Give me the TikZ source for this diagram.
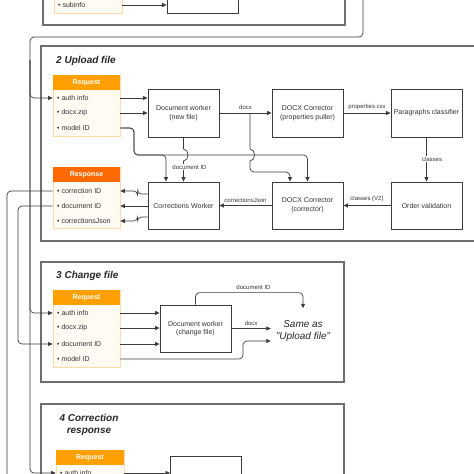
\documentclass[tikz,border=0pt]{standalone}
\usepackage{fontspec}
\setmainfont{Liberation Sans}
\usetikzlibrary{arrows.meta}
\definecolor{reqorange}{HTML}{FFA000}
\definecolor{resporange}{HTML}{FF6A00}
\definecolor{bodyfill}{HTML}{FFFBF3}
\definecolor{bodyline}{HTML}{FFD9A8}
\definecolor{lineg}{HTML}{3C3C3C}
\definecolor{frameg}{HTML}{6E6E6E}

\begin{document}
\begin{tikzpicture}[x=1pt, y=-1pt,
  frame/.style={draw=frameg, line width=1.1pt},
  box/.style={draw=lineg, line width=0.8pt, fill=white, minimum width=71pt, minimum height=48pt,
    align=center, inner sep=1pt, font=\fontsize{7}{8.6}\selectfont, text=black!80},
  listbody/.style={draw=bodyline, line width=0.6pt, fill=bodyfill, minimum width=67pt, inner sep=0pt},
  listhead/.style={fill=#1, text=white, font=\bfseries\fontsize{7}{8}\selectfont,
    minimum width=67pt, minimum height=15pt, inner sep=0pt, anchor=north},
  item/.style={anchor=west, inner sep=1pt, font=\fontsize{7}{8}\selectfont, text=black!80},
  lbl/.style={inner sep=1pt, font=\fontsize{6}{7}\selectfont, text=black!80},
  conn/.style={draw=lineg, line width=0.7pt, rounded corners=4pt, -{Triangle[length=4.5pt, width=4pt]}},
  title/.style={font=\bfseries\itshape\fontsize{10}{12}\selectfont, text=black!85, inner sep=0pt},
]
  \useasboundingbox (0,0) rectangle (474,474);
  \clip (0,0) rectangle (474,474);

  % frames
  \draw[frame] (43,-60) rectangle (345,25);
  \draw[frame] (41,46) rectangle (490,241);
  \draw[frame] (41,262) rectangle (344,382);
  \draw[frame] (41,404) rectangle (344,520);

  % 1 (cut off)
  \node[listbody, minimum width=68pt, minimum height=66pt] (req1) at (88,-20) {};
  \node[item] (r1s) at (57,5) {• subinfo};
  \node[box] (b1) at (202.5,-11) {};
  \draw[conn] (req1.east |- r1s) -- (b1.west |- r1s);

  % 2 Upload file
  \node[title, anchor=west] (t2) at (56,61) {2 Upload file};
  \node[listbody, minimum height=61pt] (req2) at (86.5,105.5) {};
  \node[listhead=reqorange] (req2h) at (req2.north) {Request};
  \node[item] (r2a) at (56,98) {• auth info};
  \node[item] (r2d) at (56,113) {• docx.zip};
  \node[item] (r2m) at (56,128) {• model ID};

  \node[listbody, minimum height=61pt] (resp2) at (86.5,197.5) {};
  \node[listhead=resporange] (resp2h) at (resp2.north) {Response};
  \node[item] (r2c) at (56,191) {• correction ID};
  \node[item] (r2i) at (56,206) {• document ID};
  \node[item] (r2j) at (56,221) {• correctionsJson};

  \node[box] (dw2) at (183.5,113) {Document worker\\(new file)};
  \node[box] (dc1) at (307.5,113) {DOCX Corrector\\(properties puller)};
  \node[box] (pc) at (426.5,113) {Paragraphs classifier};
  \node[box, minimum height=47pt] (cw2) at (183.5,205.5) {Corrections Worker};
  \node[box, minimum height=47pt] (dc2) at (307.5,205.5) {DOCX Corrector\\(corrector)};
  \node[box, minimum height=47pt] (ov) at (426.5,205.5) {Order validation};

  \draw[conn] (req2.east |- r2a) -- (dw2.west |- r2a);
  \draw[conn] (req2.east |- r2d) -- (dw2.west |- r2d);
  \draw[conn] (dw2.east) -- (dc1.west) node[lbl, midway, above=2pt] (l-docx2) {docx};
  \draw[conn] (dc1.east) -- (pc.west) node[lbl, midway, above=2pt] (l-csv) {properties.csv};
  \draw[conn] (pc.south) -- (ov.north);
  \node[lbl, fill=white] (l-cls) at (432,159) {classes};
  \draw[conn] (ov.west) -- (dc2.east) node[lbl, midway, above=2pt] (l-cls2) {classes (V2)};
  \draw[conn] (dc2.west) -- (cw2.east) node[lbl, midway, above=2pt] (l-json) {correctionsJson};

  \coordinate (mbus) at (134,155);
  \draw[conn] (req2.east |- r2m) -| (mbus) -| (dc2.north);
  \draw[conn] (req2.east |- r2m) -| (mbus) -| ([xshift=-17.5pt]cw2.north);

  % jumps over the model ID line
  \coordinate (dsplit) at (250,113);
  \draw[conn] (dsplit) [sharp corners] -- (250,149) .. controls (256,149) and (256,161) .. (250,161)
    -- (250,166) [rounded corners=4pt] -- (250,172) -| ([xshift=-17.5pt]dc2.north);

  \draw[conn, sharp corners] (dw2.south) -- (183.5,149) .. controls (189.5,149) and (189.5,161) .. (183.5,161)
    -- (cw2.north);
  \node[lbl, fill=white] (l-did2) at (189.5,167) {document ID};

  \draw[conn] ([yshift=11.5pt]cw2.west) -- ++(-10,0) |- (resp2.east |- r2c);
  \draw[conn] (cw2.west |- r2i) -- (resp2.east |- r2i);
  \draw[conn] ([yshift=-11.5pt]cw2.west) -- ++(-10,0) |- (resp2.east |- r2j);

  % 3 Change file
  \node[title, anchor=west] (t3) at (56,276) {3 Change file};
  \node[listbody, minimum height=77pt] (req3) at (86.5,328.5) {};
  \node[listhead=reqorange] (req3h) at (req3.north) {Request};
  \node[item] (r3a) at (56,313) {• auth info};
  \node[item] (r3d) at (56,328) {• docx.zip};
  \node[item] (r3i) at (56,344) {• document ID};
  \node[item] (r3m) at (56,359) {• model ID};

  \node[box, minimum height=47pt] (dw3) at (195.5,328.5) {Document worker\\(change file)};
  \node[font=\itshape\fontsize{10}{12}\selectfont, text=black!85, align=center, inner sep=1pt]
    (same) at (303,331) {Same as\\"Upload file"};
  \coordinate (samein) at ([xshift=-4pt]same.west);

  \draw[conn] (req3.east |- r3a) -- (dw3.west |- r3a);
  \draw[conn] (req3.east |- r3d) -- (dw3.west |- r3d);
  \draw[conn] (req3.east |- r3i) -- (dw3.west |- r3i);
  \draw[conn] (dw3.east) -- (samein |- dw3.east) node[lbl, midway, above=2pt] (l-docx3) {docx};
  \coordinate (mjog) at (243,341);
  \draw[conn] (req3.east |- r3m) -| (mjog) -- (samein |- mjog);
  \draw[conn] (dw3.north) -- ++(0,-12) -| ([yshift=11pt]same.north);
  \node[lbl] (l-did3) at (253.5,287) {document ID};

  % 4 Correction response
  \node[title, align=center] (t4) at (89,425) {4 Correction\\response};
  \node[listbody, minimum width=68pt, minimum height=80pt] (req4) at (90,490) {};
  \node[listhead=reqorange, minimum width=68pt] (req4h) at (req4.north) {Request};
  \node[item] (r4a) at (59,473) {• auth info};
  \coordinate (r4c) at (56,488);
  \node[box] (rw4) at (206,480) {};
  \draw[conn] (req4.east |- r4a) -- (rw4.west |- r4a);

  % wires between sections
  \coordinate (src1) at (363,-10);
  \coordinate (abus) at (30,37);
  \coordinate (abus2) at (30,60);
  \draw[conn] (src1) |- (abus) |- (req2.west |- r2a);
  \draw[conn] (abus2) |- (req3.west |- r3a);
  \draw[conn] (abus2) |- (req4.west |- r4a);

  \coordinate (dbus) at (18,344);
  \draw[conn] (resp2.west |- r2i) -| (dbus) -- (req3.west |- r3i);
  \coordinate (cbus) at (7,488);
  \draw[conn] (resp2.west |- r2c) -| (cbus) -- (r4c);
\end{tikzpicture}
\end{document}
